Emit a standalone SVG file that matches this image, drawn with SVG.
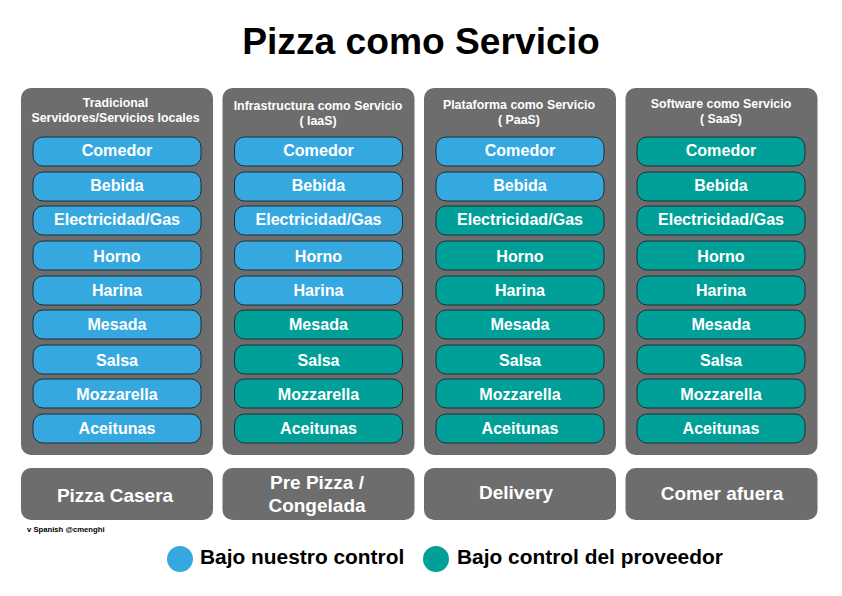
<svg xmlns="http://www.w3.org/2000/svg" width="842" height="596" viewBox="0 0 842 596">
<style>
text{font-family:"Liberation Sans",Arial,sans-serif;font-weight:700;text-anchor:middle}
.p{fill:#6d6d6d}
.b,.g{stroke:#1f2f3a;stroke-width:1}
.b{fill:#35a8e0}
.g{fill:#00a099}
.t{fill:#fff;font-size:16.100px}
.h{fill:#fff;font-size:12.400px}
.f{fill:#fff;font-size:19px}
.l{fill:#000;font-size:20.900px;text-anchor:start}
</style>
<defs>
<rect id="pill" width="168" height="29" rx="10"/>
</defs>
<rect width="842" height="596" fill="#fff"/>
<text x="421" y="54" font-size="37.200" fill="#000">Pizza como Servicio</text>
<g id="col1">
<rect class="p" x="21" y="88" width="192" height="367" rx="10"/>
<text class="h" x="115.500" y="107">Tradicional</text>
<text class="h" x="115.500" y="122">Servidores/Servicios locales</text>
<g id="c1-1"><use href="#pill" class="b" x="33" y="137"/><text class="t" x="117" y="156">Comedor</text></g>
<g id="c1-2"><use href="#pill" class="b" x="33" y="172"/><text class="t" x="117" y="191">Bebida</text></g>
<g id="c1-3"><use href="#pill" class="b" x="33" y="206"/><text class="t" x="117" y="225">Electricidad/Gas</text></g>
<g id="c1-4"><use href="#pill" class="b" x="33" y="241"/><text class="t" x="117" y="262">Horno</text></g>
<g id="c1-5"><use href="#pill" class="b" x="33" y="276"/><text class="t" x="117" y="296">Harina</text></g>
<g id="c1-6"><use href="#pill" class="b" x="33" y="310"/><text class="t" x="117" y="330">Mesada</text></g>
<g id="c1-7"><use href="#pill" class="b" x="33" y="345"/><text class="t" x="117" y="366">Salsa</text></g>
<g id="c1-8"><use href="#pill" class="b" x="33" y="379"/><text class="t" x="117" y="400">Mozzarella</text></g>
<g id="c1-9"><use href="#pill" class="b" x="33" y="414"/><text class="t" x="117" y="434">Aceitunas</text></g>
</g>
<g id="col2">
<rect class="p" x="222.500" y="88" width="192" height="367" rx="10"/>
<text class="h" x="318" y="110">Infrastructura como Servicio</text>
<text class="h" x="318" y="125">( IaaS)</text>
<g id="c2-1"><use href="#pill" class="b" x="234.500" y="137"/><text class="t" x="318.500" y="156">Comedor</text></g>
<g id="c2-2"><use href="#pill" class="b" x="234.500" y="172"/><text class="t" x="318.500" y="191">Bebida</text></g>
<g id="c2-3"><use href="#pill" class="b" x="234.500" y="206"/><text class="t" x="318.500" y="225">Electricidad/Gas</text></g>
<g id="c2-4"><use href="#pill" class="b" x="234.500" y="241"/><text class="t" x="318.500" y="262">Horno</text></g>
<g id="c2-5"><use href="#pill" class="b" x="234.500" y="276"/><text class="t" x="318.500" y="296">Harina</text></g>
<g id="c2-6"><use href="#pill" class="g" x="234.500" y="310"/><text class="t" x="318.500" y="330">Mesada</text></g>
<g id="c2-7"><use href="#pill" class="g" x="234.500" y="345"/><text class="t" x="318.500" y="366">Salsa</text></g>
<g id="c2-8"><use href="#pill" class="g" x="234.500" y="379"/><text class="t" x="318.500" y="400">Mozzarella</text></g>
<g id="c2-9"><use href="#pill" class="g" x="234.500" y="414"/><text class="t" x="318.500" y="434">Aceitunas</text></g>
</g>
<g id="col3">
<rect class="p" x="424" y="88" width="192" height="367" rx="10"/>
<text class="h" x="519" y="109">Plataforma como Servicio</text>
<text class="h" x="519" y="124">( PaaS)</text>
<g id="c3-1"><use href="#pill" class="b" x="436" y="137"/><text class="t" x="520" y="156">Comedor</text></g>
<g id="c3-2"><use href="#pill" class="b" x="436" y="172"/><text class="t" x="520" y="191">Bebida</text></g>
<g id="c3-3"><use href="#pill" class="g" x="436" y="206"/><text class="t" x="520" y="225">Electricidad/Gas</text></g>
<g id="c3-4"><use href="#pill" class="g" x="436" y="241"/><text class="t" x="520" y="262">Horno</text></g>
<g id="c3-5"><use href="#pill" class="g" x="436" y="276"/><text class="t" x="520" y="296">Harina</text></g>
<g id="c3-6"><use href="#pill" class="g" x="436" y="310"/><text class="t" x="520" y="330">Mesada</text></g>
<g id="c3-7"><use href="#pill" class="g" x="436" y="345"/><text class="t" x="520" y="366">Salsa</text></g>
<g id="c3-8"><use href="#pill" class="g" x="436" y="379"/><text class="t" x="520" y="400">Mozzarella</text></g>
<g id="c3-9"><use href="#pill" class="g" x="436" y="414"/><text class="t" x="520" y="434">Aceitunas</text></g>
</g>
<g id="col4">
<rect class="p" x="625.500" y="88" width="192" height="367" rx="10"/>
<text class="h" x="721" y="108">Software como Servicio</text>
<text class="h" x="721" y="123">( SaaS)</text>
<g id="c4-1"><use href="#pill" class="g" x="637" y="137"/><text class="t" x="721" y="156">Comedor</text></g>
<g id="c4-2"><use href="#pill" class="g" x="637" y="172"/><text class="t" x="721" y="191">Bebida</text></g>
<g id="c4-3"><use href="#pill" class="g" x="637" y="206"/><text class="t" x="721" y="225">Electricidad/Gas</text></g>
<g id="c4-4"><use href="#pill" class="g" x="637" y="241"/><text class="t" x="721" y="262">Horno</text></g>
<g id="c4-5"><use href="#pill" class="g" x="637" y="276"/><text class="t" x="721" y="296">Harina</text></g>
<g id="c4-6"><use href="#pill" class="g" x="637" y="310"/><text class="t" x="721" y="330">Mesada</text></g>
<g id="c4-7"><use href="#pill" class="g" x="637" y="345"/><text class="t" x="721" y="366">Salsa</text></g>
<g id="c4-8"><use href="#pill" class="g" x="637" y="379"/><text class="t" x="721" y="400">Mozzarella</text></g>
<g id="c4-9"><use href="#pill" class="g" x="637" y="414"/><text class="t" x="721" y="434">Aceitunas</text></g>
</g>
<g id="box1"><rect class="p" x="21" y="468" width="192" height="52" rx="10"/><text class="f" x="115" y="502">Pizza Casera</text></g>
<g id="box2"><rect class="p" x="222.500" y="468" width="192" height="52" rx="10"/><text class="f" x="317" y="489">Pre Pizza /</text><text class="f" x="317" y="512">Congelada</text></g>
<g id="box3"><rect class="p" x="424" y="468" width="192" height="52" rx="10"/><text class="f" x="516" y="499">Delivery</text></g>
<g id="box4"><rect class="p" x="625.500" y="468" width="192" height="52" rx="10"/><text class="f" x="722" y="500">Comer afuera</text></g>
<text x="27" y="532" font-size="7.700" fill="#000" style="text-anchor:start">v Spanish @cmenghi</text>
<g id="legend1"><circle cx="180" cy="559" r="13" fill="#35a8e0"/><text class="l" x="200" y="564">Bajo nuestro control</text></g>
<g id="legend2"><circle cx="436" cy="559" r="13" fill="#00a099"/><text class="l" x="457" y="564">Bajo control del proveedor</text></g>
</svg>
